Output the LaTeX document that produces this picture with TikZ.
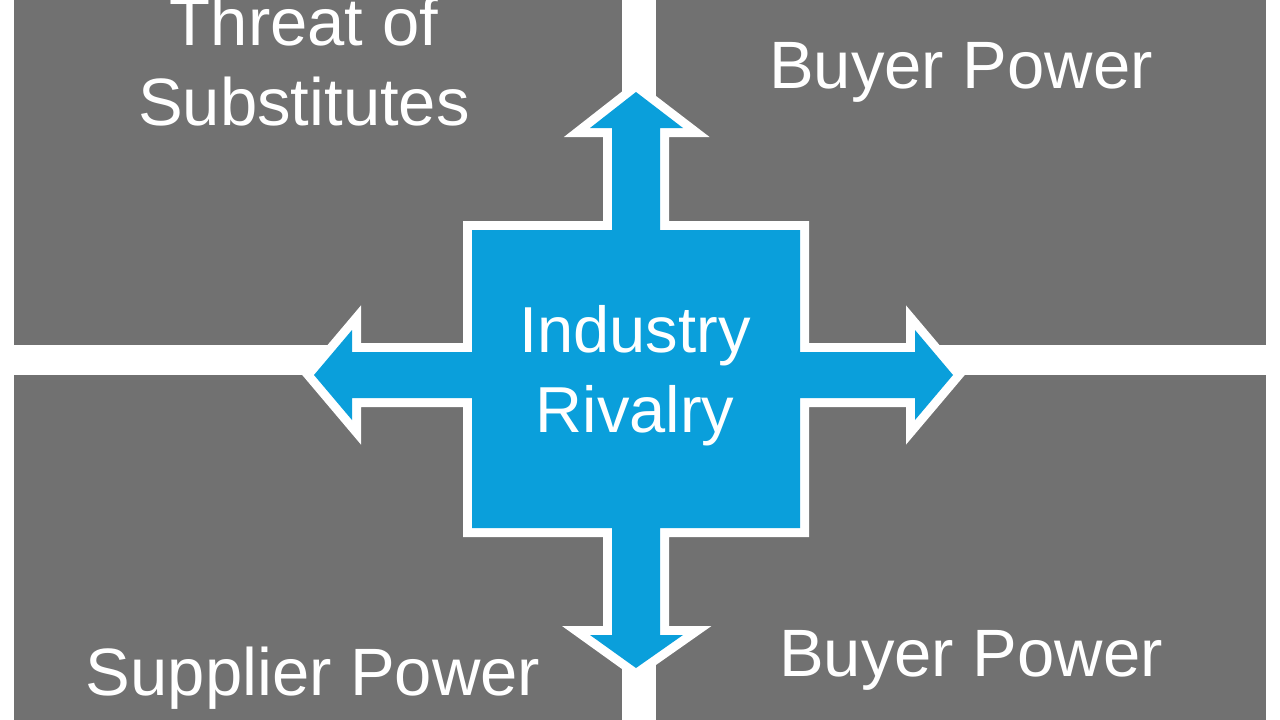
\documentclass[tikz,border=0pt]{standalone}
\usepackage{fontspec}
\setmainfont{Liberation Sans}
\definecolor{quad}{HTML}{717171}
\definecolor{bl}{HTML}{0A9FDB}
\begin{document}
\begin{tikzpicture}[x=1pt,y=-1pt,
  lab/.style={text=white,align=center,font=\fontsize{67}{80}\selectfont},
  quadbox/.style={fill=quad}]
\useasboundingbox[fill=white] (0,0) rectangle (1280,720);
\fill[quadbox] (14,0) rectangle (622,345);
\fill[quadbox] (656,0) rectangle (1266,345);
\fill[quadbox] (14,375) rectangle (622,720);
\fill[quadbox] (656,375) rectangle (1266,720);
\def\cross{(636,92) -- (683,128) -- (660,128) -- (660,230) -- (800,230) -- (800,352) -- (915,352) -- (915,330) -- (953,375) -- (915,420) -- (915,398) -- (800,398) -- (800,528) -- (660,528) -- (660,635) -- (683,635) -- (636,668) -- (590,635) -- (612,635) -- (612,528) -- (472,528) -- (472,398) -- (352,398) -- (352,420) -- (314,375) -- (352,330) -- (352,352) -- (472,352) -- (472,230) -- (612,230) -- (612,128) -- (590,128) -- cycle}
\draw[white,line width=18,line join=miter] \cross;
\fill[bl] \cross;
\node[lab] (ts) at (304,62) {Threat of\\Substitutes};
\node[lab] (bp1) at (961,72) {Buyer Power};
\node[lab] (sp) at (313,678) {Supplier Power};
\node[lab] (bp2) at (971,660) {Buyer Power};
\node[lab,font=\fontsize{65}{80}\selectfont] (ir) at (635,376) {Industry\\Rivalry};
\end{tikzpicture}
\end{document}
